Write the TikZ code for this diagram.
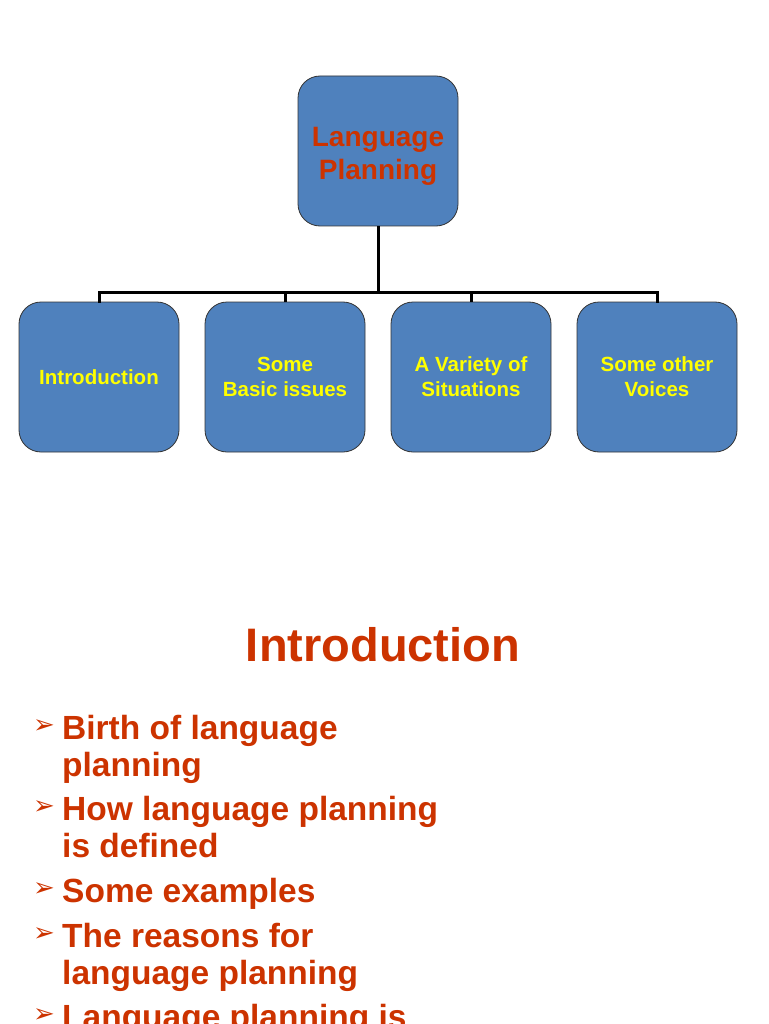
\documentclass[tikz,border=0pt]{standalone}
\usepackage{fontspec}
\setmainfont{Liberation Sans}
\newfontfamily\dejavu{DejaVu Sans}
\definecolor{boxblue}{HTML}{4F81BD}
\definecolor{redtxt}{HTML}{CC3300}
\definecolor{yel}{HTML}{FFFF00}
\begin{document}
\begin{tikzpicture}[x=1pt,y=-1pt,
  box/.style={draw=black!80,line width=0.8pt,fill=boxblue,rounded corners=22pt,minimum width=160pt,minimum height=150pt,align=center,inner sep=0pt},
  sub/.style={box,text=yel,font=\bfseries\fontsize{20.5}{25}\selectfont},
  conn/.style={line width=3pt},
  bul/.style={anchor=north west,text=redtxt,font=\bfseries\fontsize{33.5}{37}\selectfont,align=left,inner sep=0pt}]
\path[use as bounding box] (0,0) rectangle (768,1024);
\clip (0,0) rectangle (768,1024);
\node[box,text=redtxt,font=\bfseries\fontsize{28}{37}\selectfont,text depth=0pt] (top) at (378,151) {\raisebox{-5pt}{\shortstack{Language\\[4pt] Planning}}};
\node[sub] (a) at (99,377) {Introduction};
\node[sub] (b) at (285,377) {Some\\Basic issues};
\node[sub] (c) at (471,377) {A Variety of\\Situations};
\node[sub] (d) at (657,377) {Some other\\Voices};
\coordinate (j) at (378,292);
\draw[conn] (top.south) -- (j);
\draw[conn,line cap=rect] (a.north) -- (99,292) -- (657,292) -- (d.north);
\draw[conn] (b.north) -- (285,292);
\draw[conn] (c.north) -- (471,292);
\node[text=redtxt,font=\bfseries\fontsize{47}{56}\selectfont] (title) at (383,645) {Introduction};
\foreach \y/\t [count=\i] in {715/{Birth of language\\planning},796/{How language planning\\is defined},878/{Some examples},923/{The reasons for\\language planning},1004/{Language planning is}}{
  \node[bul,font=\dejavu\bfseries\fontsize{26}{30}\selectfont] (m\i) at (33,\y+4) {➢};
  \node[bul] (t\i) at (62,\y) {\t};
}
\end{tikzpicture}
\end{document}
